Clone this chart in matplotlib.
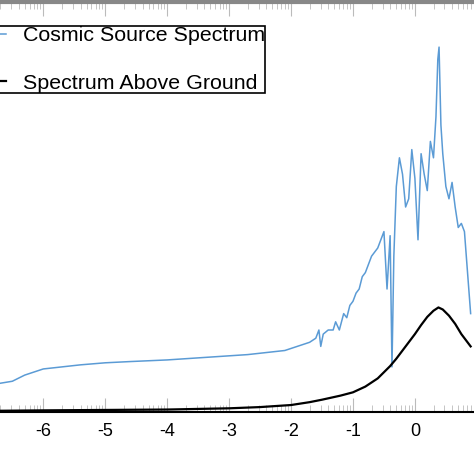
import numpy as np
import matplotlib
matplotlib.use("Agg")
import matplotlib.pyplot as plt

plt.rcParams['font.family'] = ['Liberation Sans', 'DejaVu Sans']

# log10 energy, counts (normalized)
blue_x = [-6.7, -6.5, -6.3, -6.0, -5.7, -5.4, -5.0, -4.6, -4.3, -4.0, -3.7, -3.4, -3.0, -2.7,
          -2.4, -2.1, -1.9, -1.7, -1.6, -1.55, -1.52, -1.48, -1.4, -1.32, -1.28, -1.22, -1.15,
          -1.1, -1.05, -1.0, -0.95, -0.9, -0.85, -0.8, -0.7, -0.6, -0.5, -0.45, -0.4, -0.37,
          -0.34, -0.3, -0.25, -0.2, -0.15, -0.1, -0.05, 0.0, 0.05, 0.1, 0.15, 0.2, 0.25, 0.3,
          0.34, 0.37, 0.39, 0.42, 0.45, 0.5, 0.55, 0.6, 0.65, 0.7, 0.75, 0.8, 0.85, 0.9]
blue_y = [0.07, 0.075, 0.09, 0.105, 0.11, 0.115, 0.12, 0.123, 0.125, 0.127, 0.13, 0.133, 0.137, 0.14,
          0.145, 0.15, 0.16, 0.17, 0.18, 0.2, 0.16, 0.19, 0.2, 0.2, 0.22, 0.2, 0.24,
          0.23, 0.26, 0.27, 0.29, 0.3, 0.33, 0.34, 0.38, 0.40, 0.44, 0.30, 0.43, 0.11,
          0.38, 0.55, 0.62, 0.58, 0.50, 0.52, 0.64, 0.57, 0.42, 0.63, 0.58, 0.54, 0.66, 0.62,
          0.72, 0.86, 0.89, 0.70, 0.63, 0.55, 0.52, 0.56, 0.50, 0.45, 0.46, 0.44, 0.34, 0.24]
black_x = [-6.7, -6.0, -5.0, -4.0, -3.0, -2.5, -2.0, -1.7, -1.5, -1.2, -1.0, -0.8, -0.6, -0.5,
           -0.4, -0.3, -0.2, -0.1, 0.0, 0.1, 0.2, 0.3, 0.38, 0.45, 0.55, 0.65, 0.75, 0.9]
black_y = [0.003, 0.004, 0.005, 0.006, 0.009, 0.012, 0.017, 0.024, 0.03, 0.04, 0.048, 0.062, 0.082, 0.097,
           0.112, 0.13, 0.15, 0.17, 0.19, 0.212, 0.232, 0.247, 0.255, 0.25, 0.235, 0.215, 0.19, 0.16]
xticks = [-6, -5, -4, -3, -2, -1, 0]

fig = plt.figure(figsize=(4.74, 4.74), dpi=100)
ax = fig.add_axes([0, 62/474, 1, 410/474])
ax.plot(blue_x, blue_y, color='#5b9bd5', lw=1.1, label='Cosmic Source Spectrum')
ax.plot(black_x, black_y, color='black', lw=1.6, label='Spectrum Above Ground')
ax.set_xlim(-6.63, 0.89)
ax.set_ylim(0, 1.0)
ax.set_xticks(xticks)
ax.set_xticklabels([str(t) for t in xticks], fontsize=13)
minors = [k + np.log10(m) for k in range(-7, 1) for m in range(2, 10)]
ax.set_xticks(minors, minor=True)
ax.tick_params(axis='x', which='both', direction='in', top=True, pad=8)
ax.tick_params(axis='x', which='major', length=10, color='#bbbbbb')
ax.tick_params(axis='x', which='minor', length=5, color='#bbbbbb')
ax.set_yticks([])
ax.spines['top'].set_color('#888888')
ax.spines['top'].set_linewidth(3)
ax.spines['bottom'].set_linewidth(1.5)
for s in ['left', 'right']:
    ax.spines[s].set_visible(False)
leg = ax.legend(loc='upper right', bbox_to_anchor=(265/474, 1 - 26/474), bbox_transform=fig.transFigure,
                fontsize=15.4, fancybox=False, edgecolor='black', framealpha=1, labelspacing=1.35,
                borderpad=0.55, borderaxespad=0, handlelength=2.5)
leg.get_frame().set_linewidth(1.2)
fig.canvas.draw()
# shift right padding: text ends at ~229 px in reference
leg._legend_box.pad = 0
fig.savefig('out.png', dpi=100)
